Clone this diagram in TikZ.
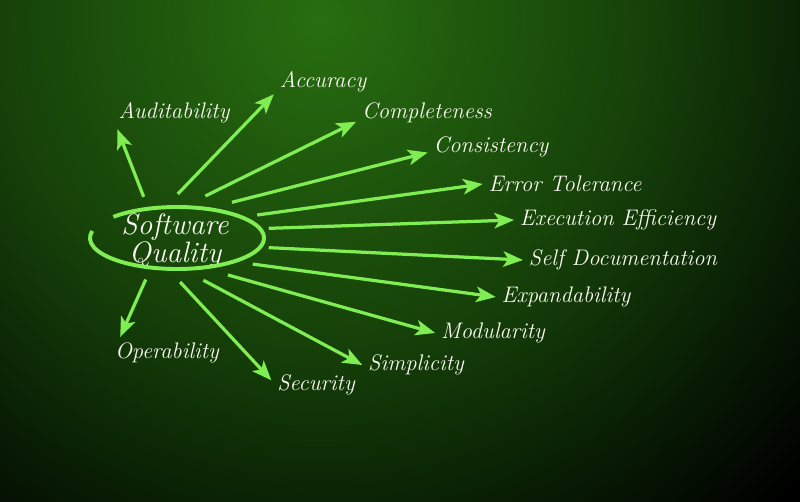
\documentclass[tikz,border=0pt]{standalone}
\usepackage{tikz}
\usetikzlibrary{arrows.meta, shapes.geometric}
\definecolor{lightgreen}{RGB}{128,238,82}
\definecolor{bgA}{RGB}{40,110,16}
\definecolor{bgB}{RGB}{22,66,9}
\definecolor{bgC}{RGB}{8,28,4}
\definecolor{chalk}{RGB}{250,250,242}
\pgfdeclareradialshading{greenglow}{\pgfpoint{0bp}{0bp}}{color(0bp)=(bgA); color(11bp)=(bgB); color(18bp)=(bgC); color(23bp)=(black); color(50bp)=(black)}

\begin{document}
\begin{tikzpicture}[x=0.025cm, y=0.025cm,
    lbl/.style={text=chalk, font=\fontsize{16}{18}\selectfont\itshape, inner sep=4pt},
    arr/.style={draw=lightgreen, line width=2.3pt, -{Stealth[length=14pt, width=11pt, inset=3.5pt]}}]
    % Background
    \useasboundingbox (0,0) rectangle (800,501);
    \begin{scope}
        \clip (0,0) rectangle (800,501);
        \fill[black] (0,0) rectangle (800,501);
        \shade[shading=greenglow] (320,480) circle[radius=18cm];
    \end{scope}

    % Centre: Software Quality
    \node[ellipse, minimum width=4.7cm, minimum height=2.2cm, inner sep=0pt, outer sep=0pt] (sq) at (177,263) {};
    \node[text=chalk, align=center, inner sep=0pt, font=\fontsize{21}{19}\selectfont\itshape] (title) at (175,260) {Software\\Quality};
    \draw[lightgreen, line width=2.8pt] (sq.center) ++(137:2.175cm and 0.775cm)
        arc[start angle=137, end angle=-193, x radius=2.175cm, y radius=0.775cm];

    % Attributes and arrows
    \foreach \name/\px/\py/\txt/\from/\tip in {
        aud/174/388/Auditability/129/196,
        acc/323/419/Accuracy/89/194,
        comp/427/388/Completeness/56/187,
        cons/491/354/Consistency/33/185,
        err/565/317/Error Tolerance/16/west,
        exe/618/281/Execution Efficiency/6/west,
        doc/623/241/Self Documentation/-6/west,
        exp/566/204/Expandability/-19/west,
        mod/493/168/Modularity/-36/west,
        simp/416/136/Simplicity/-58/west,
        sec/316/116/Security/-86/174,
        oper/167/148/Operability/-127/161} {
        \node[lbl] (\name) at (\px,\py) {\txt};
        \draw[arr] (sq.\from) -- (\name.\tip);
    }
\end{tikzpicture}
\end{document}
